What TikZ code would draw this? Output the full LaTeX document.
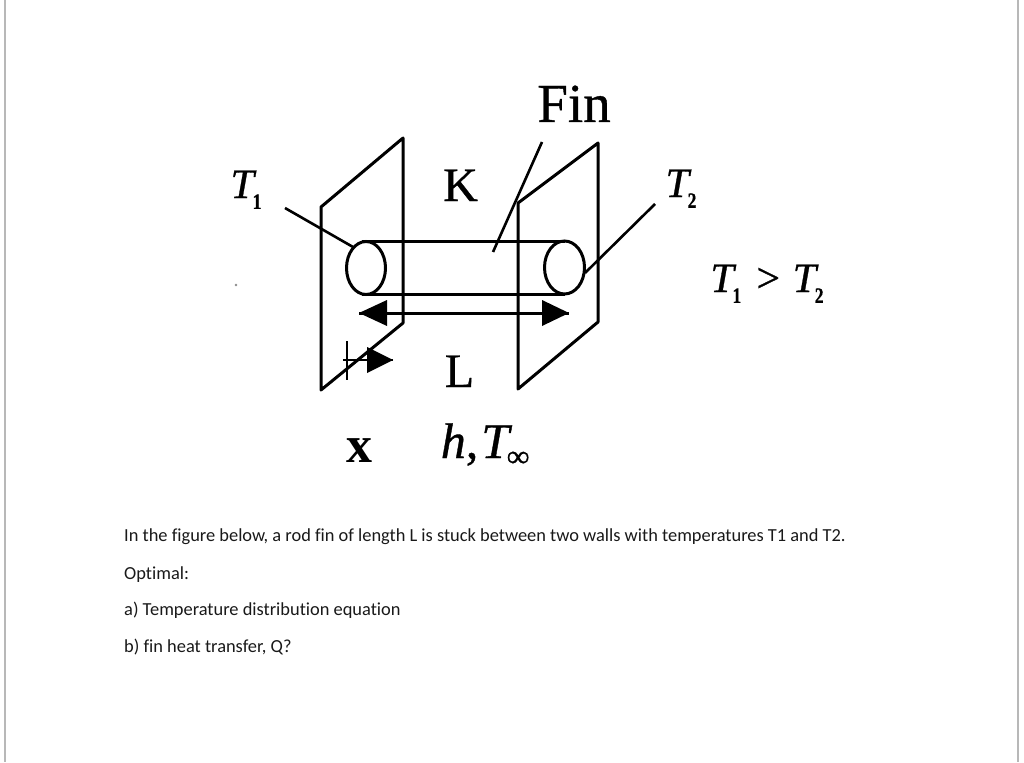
\documentclass[tikz,border=0pt]{standalone}
\usepackage{fontspec}
\setmainfont{Liberation Serif}
\newfontfamily\labfont[FakeBold=0.7]{Liberation Serif}
\newfontfamily\bodyfont[Ligatures=NoCommon]{Carlito}
\tikzset{
  wall/.style={draw=black,line width=3pt,line join=round,line cap=round},
  rod/.style={draw=black,line width=3pt},
  leader/.style={draw=black,line width=2.6pt},
  head/.style={fill=black,draw=none},
  lab/.style={inner sep=0pt,anchor=base,text=black},
  body/.style={inner sep=0pt,anchor=base west,font=\bodyfont\fontsize{18.4}{22}\selectfont,text=black!90}
}
\newcommand{\subdig}[1]{\kern-0.09em\raisebox{-0.26em}{\scalebox{0.8}[1]{\fontsize{22}{22}\selectfont\bfseries #1}}}
\newcommand{\sym}[2]{\textit{#1}\subdig{#2}}
\begin{document}
\begin{tikzpicture}[x=1pt,y=-1pt]
\useasboundingbox (0,0) rectangle (1024,762);
\fill[white] (0,0) rectangle (1024,762);
\draw[black!28,line width=1.5pt] (5,0) -- (5,762);
\draw[black!28,line width=1.5pt] (1018,0) -- (1018,762);
\fill[black!45] (236,285) circle (1.4pt);
% left wall
\coordinate (lw1) at (321,207); \coordinate (lw2) at (403,138);
\coordinate (lw3) at (403,323); \coordinate (lw4) at (321,390);
\draw[wall] (lw1) -- (lw2) -- (lw3) -- (lw4) -- cycle;
% right wall
\coordinate (rw1) at (518,203); \coordinate (rw2) at (598,143);
\coordinate (rw3) at (598,322); \coordinate (rw4) at (518,389);
\draw[wall] (rw1) -- (rw2) -- (rw3) -- (rw4) -- cycle;
% rod
\draw[rod] (366,268) ellipse [x radius=19.5,y radius=26.5];
\draw[rod] (564.5,267.5) ellipse [x radius=20,y radius=26.5];
\draw[rod] (362,241) -- (564.5,241);
\draw[rod] (362,294) -- (564.5,294);
% L arrow
\coordinate (la) at (359,313); \coordinate (ra) at (569,313);
\draw[line width=3pt] (la) -- (ra);
\fill[head] (la) -- (387,300) -- (387,326) -- cycle;
\fill[head] (ra) -- (542,300) -- (542,326) -- cycle;
% x arrow
\coordinate (xa) at (393,360);
\draw[line width=2.6pt] (343,360) -- (xa);
\draw[line width=2.6pt] (347,341) -- (347,380);
\fill[head] (xa) -- (367,347) -- (367,373) -- cycle;
% leaders
\draw[leader] (285,208) -- (353,247);
\draw[leader] (655,204) -- (585,273);
\draw[leader] (542,142) -- (493,252);
% labels
\node[lab,font=\labfont\fontsize{55}{55}\selectfont] (fin) at (574,122) {Fin};
\node[lab,font=\labfont\fontsize{48}{48}\selectfont] (k) at (460.5,201) {K};
\node[lab,font=\labfont\fontsize{48}{48}\selectfont] (l) at (459.5,387) {L};
\node[lab,font=\bfseries\fontsize{52}{52}\selectfont] (x) at (359,462) {x};
\node[lab,font=\labfont\fontsize{42}{42}\selectfont] (t1) at (246,198) {\sym{T}{1}};
\node[lab,font=\labfont\fontsize{42}{42}\selectfont] (t2) at (681,197) {\sym{T}{2}};
\node[lab,font=\labfont\fontsize{42}{42}\selectfont] (ineq) at (767,292) {\sym{T}{1}\kern0.36em>\kern0.3em\sym{T}{2}};
\node[lab,font=\labfont\fontsize{50}{50}\selectfont] (h) at (485,458) {\textit{h},\kern0.06em\textit{T}\kern-0.1em\raisebox{-0.17em}{\fontsize{31}{31}\selectfont\bfseries ∞}};
% body
\node[body] (b1) at (124,541.5) {In the figure below, a rod fin of length L is stuck between two walls with temperatures T1 and T2.};
\node[body] (b2) at (124,579.5) {Optimal:};
\node[body] (b3) at (124,615.5) {a) Temperature distribution equation};
\node[body] (b4) at (124,652.5) {b) fin heat transfer, Q?};
\end{tikzpicture}
\end{document}
